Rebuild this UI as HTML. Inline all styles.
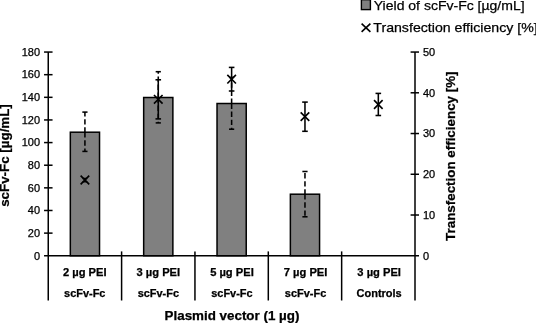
<!DOCTYPE html>
<html><head><meta charset="utf-8"><title>Chart</title>
<style>html,body{margin:0;padding:0;background:#fff;}svg{display:block}text{font-family:"Liberation Sans",sans-serif;fill:#000;stroke:#000;stroke-width:.25px}</style>
</head><body>
<svg width="536" height="323" viewBox="0 0 536 323">
<rect x="0" y="0" width="536" height="323" fill="#fff"/>
<rect x="70.33" y="132.20" width="29.2" height="123.55" fill="#808080" stroke="#000" stroke-width="1.5"/>
<rect x="143.67" y="97.50" width="29.2" height="158.25" fill="#808080" stroke="#000" stroke-width="1.5"/>
<rect x="217.03" y="103.50" width="29.2" height="152.25" fill="#808080" stroke="#000" stroke-width="1.5"/>
<rect x="290.37" y="194.20" width="29.2" height="61.55" fill="#808080" stroke="#000" stroke-width="1.5"/>
<g stroke="#000" stroke-width="1.5" fill="none">
<line x1="48.25" y1="52.05" x2="48.25" y2="300.5"/>
<line x1="415.0" y1="52.05" x2="415.0" y2="300.5"/>
<line x1="44.05" y1="255.75" x2="419.0" y2="255.75"/>
<line x1="44.05" y1="233.12" x2="52.55" y2="233.12"/>
<line x1="44.05" y1="210.48" x2="52.55" y2="210.48"/>
<line x1="44.05" y1="187.85" x2="52.55" y2="187.85"/>
<line x1="44.05" y1="165.22" x2="52.55" y2="165.22"/>
<line x1="44.05" y1="142.58" x2="52.55" y2="142.58"/>
<line x1="44.05" y1="119.95" x2="52.55" y2="119.95"/>
<line x1="44.05" y1="97.32" x2="52.55" y2="97.32"/>
<line x1="44.05" y1="74.68" x2="52.55" y2="74.68"/>
<line x1="44.05" y1="52.05" x2="52.55" y2="52.05"/>
<line x1="410.6" y1="215.01" x2="419.0" y2="215.01"/>
<line x1="410.6" y1="174.27" x2="419.0" y2="174.27"/>
<line x1="410.6" y1="133.53" x2="419.0" y2="133.53"/>
<line x1="410.6" y1="92.79" x2="419.0" y2="92.79"/>
<line x1="410.6" y1="52.05" x2="419.0" y2="52.05"/>
<line x1="121.60" y1="251.4" x2="121.60" y2="300.5"/>
<line x1="194.95" y1="251.4" x2="194.95" y2="300.5"/>
<line x1="268.30" y1="251.4" x2="268.30" y2="300.5"/>
<line x1="341.65" y1="251.4" x2="341.65" y2="300.5"/>
</g>
<g stroke="#000" stroke-width="1.55" fill="none">
<line x1="84.92" y1="132.7" x2="84.92" y2="112.1" stroke-dasharray="5.4 2.7"/>
<line x1="84.92" y1="132.2" x2="84.92" y2="151.4" stroke-dasharray="5.4 2.7"/>
<line x1="82.33" y1="112.1" x2="87.52" y2="112.1"/>
<line x1="82.33" y1="151.4" x2="87.52" y2="151.4"/>
<line x1="158.27" y1="98.0" x2="158.27" y2="71.7" stroke-dasharray="5.4 2.7"/>
<line x1="158.27" y1="97.5" x2="158.27" y2="122.9" stroke-dasharray="5.4 2.7"/>
<line x1="155.67" y1="71.7" x2="160.87" y2="71.7"/>
<line x1="155.67" y1="122.9" x2="160.87" y2="122.9"/>
<line x1="231.62" y1="104.0" x2="231.62" y2="77.4" stroke-dasharray="5.4 2.7"/>
<line x1="231.62" y1="103.5" x2="231.62" y2="129.2" stroke-dasharray="5.4 2.7"/>
<line x1="229.03" y1="77.4" x2="234.22" y2="77.4"/>
<line x1="229.03" y1="129.2" x2="234.22" y2="129.2"/>
<line x1="304.97" y1="194.7" x2="304.97" y2="171.5" stroke-dasharray="5.4 2.7"/>
<line x1="304.97" y1="194.2" x2="304.97" y2="216.8" stroke-dasharray="5.4 2.7"/>
<line x1="302.37" y1="171.5" x2="307.57" y2="171.5"/>
<line x1="302.37" y1="216.8" x2="307.57" y2="216.8"/>
</g>
<g stroke="#000" stroke-width="1.55" fill="none">
<line x1="84.92" y1="178.5" x2="84.92" y2="181.7"/>
<line x1="82.62" y1="178.5" x2="87.22" y2="178.5"/>
<line x1="82.62" y1="181.7" x2="87.22" y2="181.7"/>
<path d="M80.62 175.70L89.22 184.30M80.62 184.30L89.22 175.70" stroke-width="1.65"/>
<line x1="158.27" y1="79.8" x2="158.27" y2="118.9"/>
<line x1="155.47" y1="79.8" x2="161.07" y2="79.8"/>
<line x1="155.47" y1="118.9" x2="161.07" y2="118.9"/>
<path d="M153.97 95.00L162.57 103.60M153.97 103.60L162.57 95.00" stroke-width="1.65"/>
<line x1="231.62" y1="67.4" x2="231.62" y2="91.0"/>
<line x1="228.82" y1="67.4" x2="234.43" y2="67.4"/>
<line x1="228.82" y1="91.0" x2="234.43" y2="91.0"/>
<path d="M227.32 74.90L235.93 83.50M227.32 83.50L235.93 74.90" stroke-width="1.65"/>
<line x1="304.97" y1="102.1" x2="304.97" y2="131.3"/>
<line x1="302.17" y1="102.1" x2="307.77" y2="102.1"/>
<line x1="302.17" y1="131.3" x2="307.77" y2="131.3"/>
<path d="M300.67 112.30L309.27 120.90M300.67 120.90L309.27 112.30" stroke-width="1.65"/>
<line x1="378.32" y1="93.4" x2="378.32" y2="115.5"/>
<line x1="375.52" y1="93.4" x2="381.12" y2="93.4"/>
<line x1="375.52" y1="115.5" x2="381.12" y2="115.5"/>
<path d="M374.02 100.20L382.62 108.80M374.02 108.80L382.62 100.20" stroke-width="1.65"/>
</g>
<text x="40.0" y="259.50" font-size="10.0" text-anchor="end" textLength="6.1" lengthAdjust="spacingAndGlyphs">0</text>
<text x="40.0" y="236.87" font-size="10.0" text-anchor="end" textLength="12.2" lengthAdjust="spacingAndGlyphs">20</text>
<text x="40.0" y="214.23" font-size="10.0" text-anchor="end" textLength="12.2" lengthAdjust="spacingAndGlyphs">40</text>
<text x="40.0" y="191.60" font-size="10.0" text-anchor="end" textLength="12.2" lengthAdjust="spacingAndGlyphs">60</text>
<text x="40.0" y="168.97" font-size="10.0" text-anchor="end" textLength="12.2" lengthAdjust="spacingAndGlyphs">80</text>
<text x="40.0" y="146.33" font-size="10.0" text-anchor="end" textLength="18.3" lengthAdjust="spacingAndGlyphs">100</text>
<text x="40.0" y="123.70" font-size="10.0" text-anchor="end" textLength="18.3" lengthAdjust="spacingAndGlyphs">120</text>
<text x="40.0" y="101.07" font-size="10.0" text-anchor="end" textLength="18.3" lengthAdjust="spacingAndGlyphs">140</text>
<text x="40.0" y="78.43" font-size="10.0" text-anchor="end" textLength="18.3" lengthAdjust="spacingAndGlyphs">160</text>
<text x="40.0" y="55.80" font-size="10.0" text-anchor="end" textLength="18.3" lengthAdjust="spacingAndGlyphs">180</text>
<text x="423.0" y="259.50" font-size="10.0" textLength="6.1" lengthAdjust="spacingAndGlyphs">0</text>
<text x="423.0" y="218.76" font-size="10.0" textLength="12.2" lengthAdjust="spacingAndGlyphs">10</text>
<text x="423.0" y="178.02" font-size="10.0" textLength="12.2" lengthAdjust="spacingAndGlyphs">20</text>
<text x="423.0" y="137.28" font-size="10.0" textLength="12.2" lengthAdjust="spacingAndGlyphs">30</text>
<text x="423.0" y="96.54" font-size="10.0" textLength="12.2" lengthAdjust="spacingAndGlyphs">40</text>
<text x="423.0" y="55.80" font-size="10.0" textLength="12.2" lengthAdjust="spacingAndGlyphs">50</text>
<text x="84.75" y="275.5" font-size="10.2" font-weight="bold" text-anchor="middle" textLength="43.6" lengthAdjust="spacingAndGlyphs">2 µg PEI</text>
<text x="84.75" y="297" font-size="10.2" font-weight="bold" text-anchor="middle" textLength="41.4" lengthAdjust="spacingAndGlyphs">scFv-Fc</text>
<text x="158.35" y="275.5" font-size="10.2" font-weight="bold" text-anchor="middle" textLength="43.6" lengthAdjust="spacingAndGlyphs">3 µg PEI</text>
<text x="158.35" y="297" font-size="10.2" font-weight="bold" text-anchor="middle" textLength="41.4" lengthAdjust="spacingAndGlyphs">scFv-Fc</text>
<text x="231.95" y="275.5" font-size="10.2" font-weight="bold" text-anchor="middle" textLength="43.6" lengthAdjust="spacingAndGlyphs">5 µg PEI</text>
<text x="231.95" y="297" font-size="10.2" font-weight="bold" text-anchor="middle" textLength="41.4" lengthAdjust="spacingAndGlyphs">scFv-Fc</text>
<text x="305.55" y="275.5" font-size="10.2" font-weight="bold" text-anchor="middle" textLength="43.6" lengthAdjust="spacingAndGlyphs">7 µg PEI</text>
<text x="305.55" y="297" font-size="10.2" font-weight="bold" text-anchor="middle" textLength="41.4" lengthAdjust="spacingAndGlyphs">scFv-Fc</text>
<text x="379.15" y="275.5" font-size="10.2" font-weight="bold" text-anchor="middle" textLength="43.6" lengthAdjust="spacingAndGlyphs">3 µg PEI</text>
<text x="379.15" y="297" font-size="10.2" font-weight="bold" text-anchor="middle" textLength="45.2" lengthAdjust="spacingAndGlyphs">Controls</text>
<text x="164.6" y="319.5" font-size="12.5" font-weight="bold" textLength="134.8" lengthAdjust="spacingAndGlyphs">Plasmid vector (1 µg)</text>
<text transform="translate(9.0,155.5) rotate(-90)" font-size="13" font-weight="bold" text-anchor="middle" textLength="102.6" lengthAdjust="spacingAndGlyphs">scFv-Fc [µg/mL]</text>
<text transform="translate(455.3,156.2) rotate(-90)" font-size="13.4" font-weight="bold" text-anchor="middle" textLength="169.5" lengthAdjust="spacingAndGlyphs">Transfection efficiency [%]</text>
<rect x="361.4" y="-0.3" width="9.0" height="9.9" fill="#808080" stroke="#000" stroke-width="1.4"/>
<path d="M361.6 23.7L370.4 31.9M361.6 31.9L370.4 23.7" stroke="#000" stroke-width="1.6" fill="none"/>
<text x="373.8" y="9.5" font-size="13.5" textLength="150.8" lengthAdjust="spacingAndGlyphs">Yield of scFv-Fc [µg/mL]</text>
<text x="373.3" y="31.8" font-size="13.5" textLength="164.4" lengthAdjust="spacingAndGlyphs">Transfection efficiency [%]</text>
</svg>
</body></html>
